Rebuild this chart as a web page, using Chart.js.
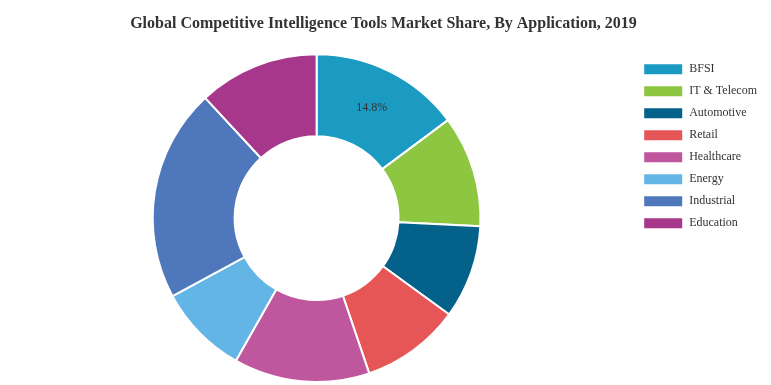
<!DOCTYPE html>
<html>
<head>
<meta charset="utf-8">
<script src="https://cdn.jsdelivr.net/npm/chart.js"></script>
<style>
  html, body { margin: 0; padding: 0; background: #fff; }
  #wrap { width: 771px; height: 385px; }
</style>
</head>
<body>
<div id="wrap"><canvas id="shareChart"></canvas></div>
<script>
const categories = ['BFSI', 'IT & Telecom', 'Automotive', 'Retail', 'Healthcare', 'Energy', 'Industrial', 'Education'];
const shares = [14.8, 11.0, 9.2, 9.8, 13.4, 8.9, 21.0, 11.9];
const sliceColors = ['#1b9ac2', '#8dc641', '#04628a', '#e65656', '#bf579e', '#63b5e5', '#4f77bb', '#a6378b'];
const labelledSlices = [0]; // only BFSI carries a label in the picture

const sliceLabels = {
    id: 'sliceLabels',
    afterDatasetsDraw(chart) {
        const ctx = chart.ctx;
        const meta = chart.getDatasetMeta(0);
        ctx.save();
        ctx.font = '12px "Liberation Serif", "Times New Roman", serif';
        ctx.fillStyle = '#333';
        ctx.textAlign = 'center';
        ctx.textBaseline = 'middle';
        labelledSlices.forEach(i => {
            const pos = meta.data[i].tooltipPosition();
            ctx.fillText(shares[i].toFixed(1) + '%', pos.x, pos.y);
        });
        ctx.restore();
    }
};

new Chart(document.getElementById('shareChart'), {
    type: 'doughnut',
    data: {
        labels: categories,
        datasets: [{
            data: shares,
            backgroundColor: sliceColors,
            borderColor: '#fff',
            borderWidth: 2
        }]
    },
    options: {
        responsive: true,
        maintainAspectRatio: false,
        animation: false,
        cutout: '50%',
        layout: { padding: { bottom: 2, right: 4 } },
        plugins: {
            title: {
                display: true,
                text: 'Global Competitive Intelligence Tools Market Share, By Application, 2019',
                color: '#333',
                font: { family: '"Liberation Serif", "Times New Roman", serif', size: 16, weight: 'bold' },
                padding: { top: 14, bottom: 20 }
            },
            legend: {
                position: 'right',
                align: 'start',
                fullSize: false,
                labels: {
                    boxWidth: 40,
                    boxHeight: 12,
                    padding: 10,
                    color: '#333',
                    font: { family: '"Liberation Serif", "Times New Roman", serif', size: 12 }
                }
            },
            tooltip: { enabled: false }
        }
    },
    plugins: [sliceLabels]
});
</script>
</body>
</html>
